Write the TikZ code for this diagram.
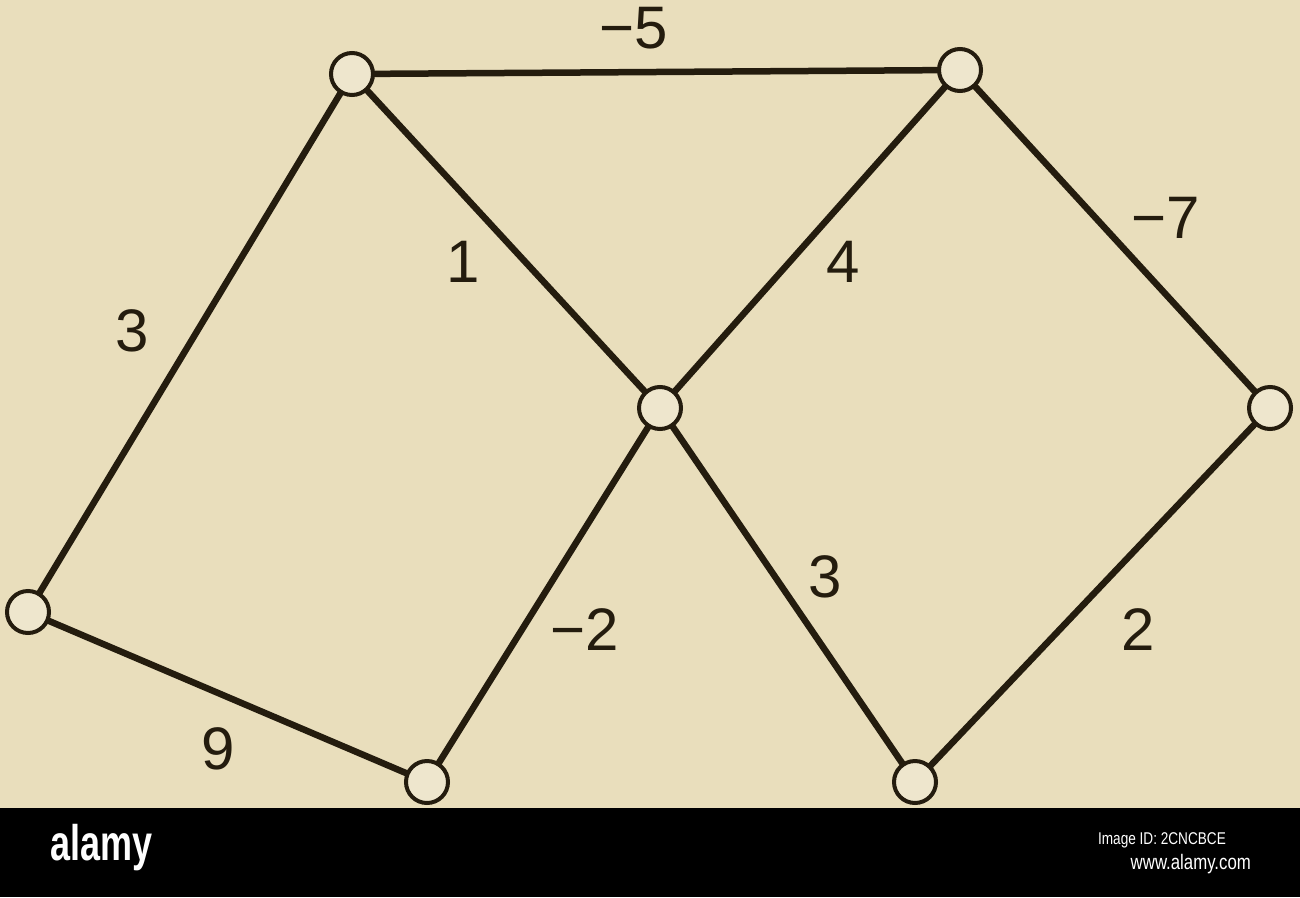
\documentclass[tikz,border=0pt]{standalone}
\usepackage{fontspec}
\setmainfont{Liberation Sans}
\definecolor{paper}{RGB}{233,222,188}
\definecolor{ink}{RGB}{36,28,14}
\tikzset{
  vtx/.style={circle,draw=ink,line width=4pt,fill=paper!75!white,minimum size=42pt,inner sep=0pt},
  edge/.style={draw=ink,line width=6.5pt},
  wt/.style={text=ink,font=\fontsize{60}{62}\selectfont,inner sep=0pt,anchor=center},
  brand/.style={text=white,inner sep=0pt}
}
\begin{document}
\begin{tikzpicture}[x=1pt,y=-1pt]
\useasboundingbox (0,0) rectangle (1300,897);
\fill[paper] (0,0) rectangle (1300,808);
\fill[black] (0,808) rectangle (1300,897);
% edges drawn first via coordinates of the vertices
\coordinate (a) at (352,74);
\coordinate (b) at (960,70);
\coordinate (c) at (660,408);
\coordinate (d) at (1270,408);
\coordinate (e) at (28,612);
\coordinate (f) at (427,782);
\coordinate (g) at (915,782);
\path[edge] (a) -- (b);
\path[edge] (a) -- (e);
\path[edge] (a) -- (c);
\path[edge] (b) -- (c);
\path[edge] (b) -- (d);
\path[edge] (c) -- (f);
\path[edge] (c) -- (g);
\path[edge] (d) -- (g);
\path[edge] (e) -- (f);
% vertices
\node[vtx] (A) at (a) {};
\node[vtx] (B) at (b) {};
\node[vtx] (C) at (c) {};
\node[vtx] (D) at (d) {};
\node[vtx] (E) at (e) {};
\node[vtx] (F) at (f) {};
\node[vtx] (G) at (g) {};
% weights
\node[wt] (wAB) at (634,28) {−5};
\node[wt] (wAE) at (132,331) {3};
\node[wt] (wAC) at (463,262) {1};
\node[wt] (wBC) at (843,262) {4};
\node[wt] (wBD) at (1166,218) {−7};
\node[wt] (wCG) at (825,577) {3};
\node[wt] (wCF) at (585,630) {−2};
\node[wt] (wDG) at (1138,630) {2};
\node[wt] (wEF) at (218,749) {9};
% bar texts
\node[brand,font=\bfseries\fontsize{50}{50}\selectfont,xscale=0.72,anchor=west] (logo) at (50,848) {alamy};
\node[brand,font=\fontsize{17}{17}\selectfont,xscale=0.8,anchor=east] (imgid) at (1226,840) {Image ID: 2CNCBCE};
\node[brand,font=\fontsize{21}{21}\selectfont,xscale=0.8,anchor=east] (url) at (1251,864) {www.alamy.com};
\end{tikzpicture}
\end{document}
